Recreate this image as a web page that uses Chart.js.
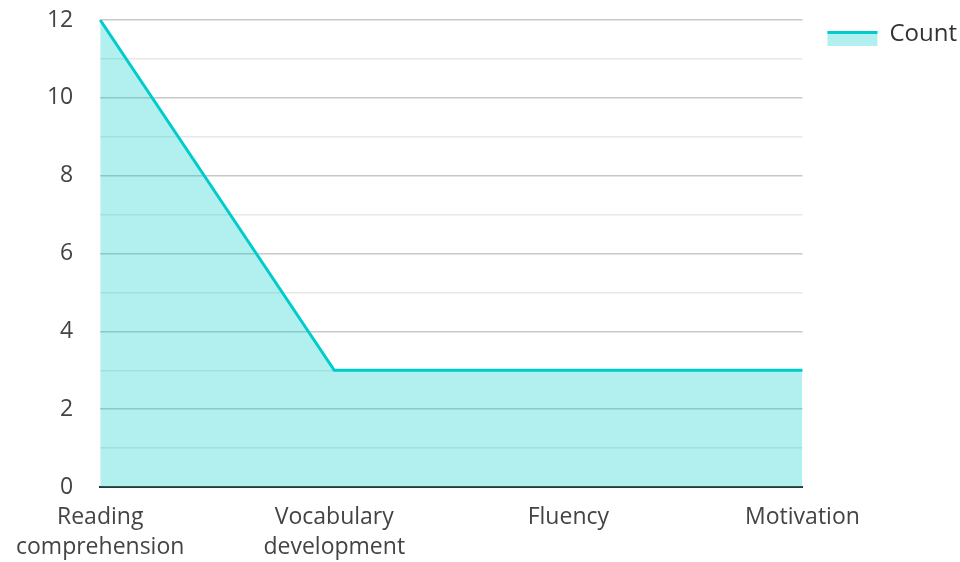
<!DOCTYPE html>
<html>
<head>
<meta charset="utf-8">
<script src="https://cdn.jsdelivr.net/npm/chart.js@4"></script>
<style>
  html, body { margin: 0; padding: 0; background: #fff; }
  #wrap { width: 960px; height: 562px; }
</style>
</head>
<body>
<div id="wrap"><canvas id="countChart"></canvas></div>
<script>
const categories = [['Reading', 'comprehension'], ['Vocabulary', 'development'], 'Fluency', 'Motivation'];
const counts = [12, 3, 3, 3];
const seriesName = 'Count';

const lineColor = '#00cccc';
const fillColor = 'rgba(0, 204, 204, 0.3)';
const fontFamily = '"Open Sans", "Noto Sans", sans-serif';

// legend swatch: filled box with a thicker top line, sitting a bit below the text centre
const legendSwatch = {
  id: 'legendSwatch',
  afterDraw(chart) {
    const legend = chart.legend;
    if (!legend || !legend.legendHitBoxes) return;
    const ctx = chart.ctx;
    legend.legendHitBoxes.forEach(function(box) {
      const top = box.top + box.height / 2 - 3;
      ctx.save();
      ctx.fillStyle = fillColor;
      ctx.fillRect(box.left, top, 50, 15);
      ctx.fillStyle = lineColor;
      ctx.fillRect(box.left, top, 50, 3);
      ctx.restore();
    });
  }
};

new Chart(document.getElementById('countChart'), {
  type: 'line',
  data: {
    labels: categories,
    datasets: [{
      label: seriesName,
      data: counts,
      borderColor: lineColor,
      backgroundColor: fillColor,
      borderWidth: 3,
      fill: 'origin',
      pointRadius: 0,
      tension: 0
    }]
  },
  options: {
    responsive: true,
    maintainAspectRatio: false,
    animation: false,
    layout: { padding: { top: -3, right: -7, bottom: 0, left: 4 } },
    plugins: {
      tooltip: { enabled: false },
      legend: {
        position: 'right',
        align: 'start',
        labels: {
          boxWidth: 50,
          boxHeight: 15,
          padding: 25,
          color: '#333',
          font: { family: fontFamily, size: 24 },
          generateLabels(chart) {
            return [{
              text: seriesName,
              fillStyle: 'rgba(0,0,0,0)',
              strokeStyle: 'rgba(0,0,0,0)',
              lineWidth: 0,
              fontColor: '#333',
              datasetIndex: 0
            }];
          }
        }
      }
    },
    scales: {
      x: {
        offset: false,
        afterFit(scale) { scale.height = 75; },
        grid: { display: false, drawTicks: false },
        border: { display: true, color: '#333', width: 2 },
        ticks: {
          color: '#444',
          padding: 16,
          maxRotation: 0,
          autoSkip: false,
          font: { family: fontFamily, size: 23, lineHeight: 1.3 }
        }
      },
      y: {
        min: 0,
        max: 12,
        afterFit(scale) {
          scale.paddingTop = 20;
          scale.paddingBottom = 0;
        },
        grid: {
          drawTicks: false,
          color(ctx) { return ctx.tick && ctx.tick.value % 2 === 0 ? '#c8c8c8' : '#e8e8e8'; },
          lineWidth: 1.5
        },
        border: { display: false },
        ticks: {
          stepSize: 1,
          color: '#444',
          padding: 27,
          font: { family: fontFamily, size: 23 },
          callback(value) { return value % 2 === 0 ? value : ''; }
        }
      }
    }
  },
  plugins: [legendSwatch]
});
</script>
</body>
</html>
